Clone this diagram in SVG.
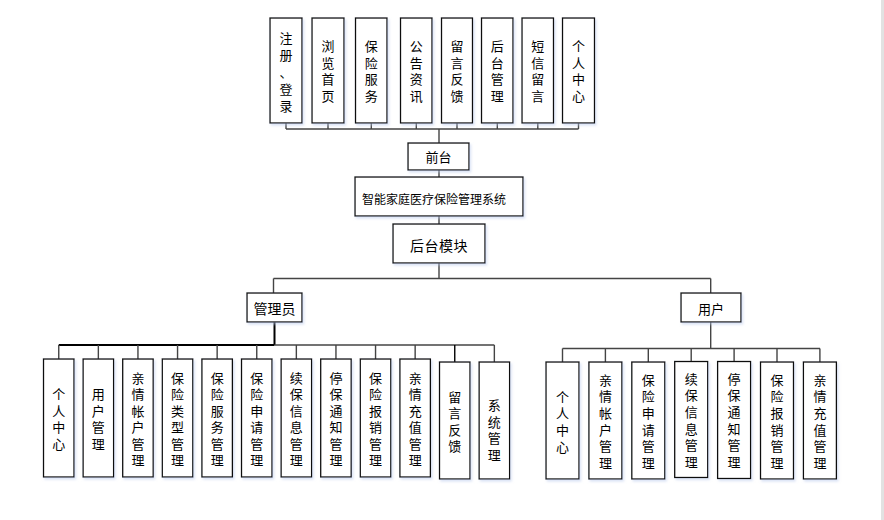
<svg xmlns="http://www.w3.org/2000/svg" width="884" height="520" viewBox="0 0 884 520">
<style>
.box{fill:#fff;stroke:#111;stroke-width:1.3;filter:url(#sh)}
.t{font-family:"Noto Sans CJK SC","Noto Sans",sans-serif;font-size:13px;fill:#000;text-anchor:middle;dominant-baseline:central}
.ln{fill:none;stroke:#444;stroke-width:1.4}
.thick{fill:none;stroke:#000;stroke-width:2}
</style>
<defs>
<filter id="sh" x="-20%" y="-20%" width="150%" height="150%">
<feDropShadow dx="1.5" dy="2" stdDeviation="1.2" flood-color="#b8c8ec" flood-opacity="0.5"/>
</filter>
</defs>
<rect width="884" height="520" fill="#fff"/>
<rect x="881" y="0" width="3" height="520" fill="#e2e2e2"/>

<g id="connectors">
<path class="ln" d="M286 123V129M328 123V129M371.3 123V129M416.3 123V129M457 123V129M497.3 123V129M537.8 123V129M578.5 123V129M286 129H578.5M439 129V143"/>
<path class="ln" d="M439 170V177M439 216V224M439 263V278.5M273.5 278.5H710.7M273.5 278.5V293M710.7 278.5V293"/>
<path class="thick" d="M274.5 322V345M58.75 345H274.5"/>
<path class="ln" d="M274.5 345H494.35"/>
<path class="ln" d="M58.75 345V359M98.35 345V359M137.95 345V359M177.55 345V359M217.15 345V359M256.75 345V359M296.35 345V359M335.95 345V359M375.55 345V359M415.15 345V359M494.35 345V362"/>
<path class="thick" d="M454.75 345V362" style="stroke-width:1.4"/>
<path class="ln" d="M710.7 322V348.5M562.5 348.5H820M562.5 348.5V362M605.4 348.5V362M648.3 348.5V362M691.2 348.5V362M734.1 348.5V362M777 348.5V362M819.9 348.5V362"/>
</g>

<g id="top-1"><rect class="box" x="270" y="18" width="32" height="105"/><text class="t" x="286" y="36.5"><tspan x="286">注</tspan><tspan x="286" dy="17">册</tspan><tspan x="286" dy="17">、</tspan><tspan x="286" dy="17">登</tspan><tspan x="286" dy="17">录</tspan></text></g>
<g id="top-2"><rect class="box" x="312" y="18" width="32" height="105"/><text class="t" x="328" y="45"><tspan x="328">浏</tspan><tspan x="328" dy="16.7">览</tspan><tspan x="328" dy="16.7">首</tspan><tspan x="328" dy="16.7">页</tspan></text></g>
<g id="top-3"><rect class="box" x="355.5" y="18" width="31.5" height="105"/><text class="t" x="371.3" y="45"><tspan x="371.3">保</tspan><tspan x="371.3" dy="16.7">险</tspan><tspan x="371.3" dy="16.7">服</tspan><tspan x="371.3" dy="16.7">务</tspan></text></g>
<g id="top-4"><rect class="box" x="400.5" y="18" width="31.5" height="105"/><text class="t" x="416.3" y="45"><tspan x="416.3">公</tspan><tspan x="416.3" dy="16.7">告</tspan><tspan x="416.3" dy="16.7">资</tspan><tspan x="416.3" dy="16.7">讯</tspan></text></g>
<g id="top-5"><rect class="box" x="441.5" y="18" width="31" height="105"/><text class="t" x="457" y="45"><tspan x="457">留</tspan><tspan x="457" dy="16.7">言</tspan><tspan x="457" dy="16.7">反</tspan><tspan x="457" dy="16.7">馈</tspan></text></g>
<g id="top-6"><rect class="box" x="481.5" y="18" width="31.5" height="105"/><text class="t" x="497.3" y="45"><tspan x="497.3">后</tspan><tspan x="497.3" dy="16.7">台</tspan><tspan x="497.3" dy="16.7">管</tspan><tspan x="497.3" dy="16.7">理</tspan></text></g>
<g id="top-7"><rect class="box" x="522" y="18" width="31.5" height="105"/><text class="t" x="537.8" y="45"><tspan x="537.8">短</tspan><tspan x="537.8" dy="16.7">信</tspan><tspan x="537.8" dy="16.7">留</tspan><tspan x="537.8" dy="16.7">言</tspan></text></g>
<g id="top-8"><rect class="box" x="562.5" y="18" width="32" height="105"/><text class="t" x="578.5" y="45"><tspan x="578.5">个</tspan><tspan x="578.5" dy="16.7">人</tspan><tspan x="578.5" dy="16.7">中</tspan><tspan x="578.5" dy="16.7">心</tspan></text></g>

<g id="qiantai"><rect class="box" x="408" y="143" width="61" height="27"/><text class="t" x="438.5" y="156.5">前台</text></g>
<g id="system"><rect class="box" x="355" y="177" width="168" height="39"/><text class="t" x="434" y="198" style="font-size:12px">智能家庭医疗保险管理系统</text></g>
<g id="houtai"><rect class="box" x="393" y="224" width="92" height="39"/><text class="t" x="439" y="244.5" style="font-size:14px;letter-spacing:0.5px">后台模块</text></g>
<g id="admin"><rect class="box" x="247" y="293" width="55" height="29"/><text class="t" x="274.5" y="308" style="font-size:14px">管理员</text></g>
<g id="user"><rect class="box" x="681" y="293" width="60" height="29"/><text class="t" x="711" y="308">用户</text></g>

<g id="a1"><rect class="box" x="43.5" y="359" width="30.5" height="118"/><text class="t" y="393"><tspan x="58.75">个</tspan><tspan x="58.75" dy="16.5">人</tspan><tspan x="58.75" dy="16.5">中</tspan><tspan x="58.75" dy="16.5">心</tspan></text></g>
<g id="a2"><rect class="box" x="83.1" y="359" width="30.5" height="118"/><text class="t" y="393"><tspan x="98.35">用</tspan><tspan x="98.35" dy="16.5">户</tspan><tspan x="98.35" dy="16.5">管</tspan><tspan x="98.35" dy="16.5">理</tspan></text></g>
<g id="a3"><rect class="box" x="122.7" y="359" width="30.5" height="118"/><text class="t" y="376.5"><tspan x="137.95">亲</tspan><tspan x="137.95" dy="16.5">情</tspan><tspan x="137.95" dy="16.5">帐</tspan><tspan x="137.95" dy="16.5">户</tspan><tspan x="137.95" dy="16.5">管</tspan><tspan x="137.95" dy="16.5">理</tspan></text></g>
<g id="a4"><rect class="box" x="162.3" y="359" width="30.5" height="118"/><text class="t" y="376.5"><tspan x="177.55">保</tspan><tspan x="177.55" dy="16.5">险</tspan><tspan x="177.55" dy="16.5">类</tspan><tspan x="177.55" dy="16.5">型</tspan><tspan x="177.55" dy="16.5">管</tspan><tspan x="177.55" dy="16.5">理</tspan></text></g>
<g id="a5"><rect class="box" x="201.9" y="359" width="30.5" height="118"/><text class="t" y="376.5"><tspan x="217.15">保</tspan><tspan x="217.15" dy="16.5">险</tspan><tspan x="217.15" dy="16.5">服</tspan><tspan x="217.15" dy="16.5">务</tspan><tspan x="217.15" dy="16.5">管</tspan><tspan x="217.15" dy="16.5">理</tspan></text></g>
<g id="a6"><rect class="box" x="241.5" y="359" width="30.5" height="118"/><text class="t" y="376.5"><tspan x="256.75">保</tspan><tspan x="256.75" dy="16.5">险</tspan><tspan x="256.75" dy="16.5">申</tspan><tspan x="256.75" dy="16.5">请</tspan><tspan x="256.75" dy="16.5">管</tspan><tspan x="256.75" dy="16.5">理</tspan></text></g>
<g id="a7"><rect class="box" x="281.1" y="359" width="30.5" height="118"/><text class="t" y="376.5"><tspan x="296.35">续</tspan><tspan x="296.35" dy="16.5">保</tspan><tspan x="296.35" dy="16.5">信</tspan><tspan x="296.35" dy="16.5">息</tspan><tspan x="296.35" dy="16.5">管</tspan><tspan x="296.35" dy="16.5">理</tspan></text></g>
<g id="a8"><rect class="box" x="320.7" y="359" width="30.5" height="118"/><text class="t" y="376.5"><tspan x="335.95">停</tspan><tspan x="335.95" dy="16.5">保</tspan><tspan x="335.95" dy="16.5">通</tspan><tspan x="335.95" dy="16.5">知</tspan><tspan x="335.95" dy="16.5">管</tspan><tspan x="335.95" dy="16.5">理</tspan></text></g>
<g id="a9"><rect class="box" x="360.3" y="359" width="30.5" height="118"/><text class="t" y="376.5"><tspan x="375.55">保</tspan><tspan x="375.55" dy="16.5">险</tspan><tspan x="375.55" dy="16.5">报</tspan><tspan x="375.55" dy="16.5">销</tspan><tspan x="375.55" dy="16.5">管</tspan><tspan x="375.55" dy="16.5">理</tspan></text></g>
<g id="a10"><rect class="box" x="399.9" y="359" width="30.5" height="118"/><text class="t" y="376.5"><tspan x="415.15">亲</tspan><tspan x="415.15" dy="16.5">情</tspan><tspan x="415.15" dy="16.5">充</tspan><tspan x="415.15" dy="16.5">值</tspan><tspan x="415.15" dy="16.5">管</tspan><tspan x="415.15" dy="16.5">理</tspan></text></g>
<g id="a11"><rect class="box" x="439.5" y="362" width="30.5" height="117"/><text class="t" y="395.5"><tspan x="454.75">留</tspan><tspan x="454.75" dy="16.5">言</tspan><tspan x="454.75" dy="16.5">反</tspan><tspan x="454.75" dy="16.5">馈</tspan></text></g>
<g id="a12"><rect class="box" x="479.1" y="362" width="30.5" height="117"/><text class="t" y="404"><tspan x="494.35">系</tspan><tspan x="494.35" dy="16.5">统</tspan><tspan x="494.35" dy="16.5">管</tspan><tspan x="494.35" dy="16.5">理</tspan></text></g>

<g id="u1"><rect class="box" x="546" y="362" width="33" height="117"/><text class="t" y="395.5"><tspan x="562.5">个</tspan><tspan x="562.5" dy="16.7">人</tspan><tspan x="562.5" dy="16.7">中</tspan><tspan x="562.5" dy="16.7">心</tspan></text></g>
<g id="u2"><rect class="box" x="588.9" y="362" width="33" height="117"/><text class="t" y="378.5"><tspan x="605.4">亲</tspan><tspan x="605.4" dy="16.7">情</tspan><tspan x="605.4" dy="16.7">帐</tspan><tspan x="605.4" dy="16.7">户</tspan><tspan x="605.4" dy="16.7">管</tspan><tspan x="605.4" dy="16.7">理</tspan></text></g>
<g id="u3"><rect class="box" x="631.8" y="362" width="33" height="117"/><text class="t" y="378.5"><tspan x="648.3">保</tspan><tspan x="648.3" dy="16.7">险</tspan><tspan x="648.3" dy="16.7">申</tspan><tspan x="648.3" dy="16.7">请</tspan><tspan x="648.3" dy="16.7">管</tspan><tspan x="648.3" dy="16.7">理</tspan></text></g>
<g id="u4"><rect class="box" x="674.7" y="361.5" width="33" height="116"/><text class="t" y="377.5"><tspan x="691.2">续</tspan><tspan x="691.2" dy="16.7">保</tspan><tspan x="691.2" dy="16.7">信</tspan><tspan x="691.2" dy="16.7">息</tspan><tspan x="691.2" dy="16.7">管</tspan><tspan x="691.2" dy="16.7">理</tspan></text></g>
<g id="u5"><rect class="box" x="717.6" y="361.5" width="33" height="117"/><text class="t" y="377.5"><tspan x="734.1">停</tspan><tspan x="734.1" dy="16.7">保</tspan><tspan x="734.1" dy="16.7">通</tspan><tspan x="734.1" dy="16.7">知</tspan><tspan x="734.1" dy="16.7">管</tspan><tspan x="734.1" dy="16.7">理</tspan></text></g>
<g id="u6"><rect class="box" x="760.5" y="362" width="33" height="117"/><text class="t" y="378.5"><tspan x="777">保</tspan><tspan x="777" dy="16.7">险</tspan><tspan x="777" dy="16.7">报</tspan><tspan x="777" dy="16.7">销</tspan><tspan x="777" dy="16.7">管</tspan><tspan x="777" dy="16.7">理</tspan></text></g>
<g id="u7"><rect class="box" x="803.4" y="362" width="33" height="117"/><text class="t" y="378.5"><tspan x="819.9">亲</tspan><tspan x="819.9" dy="16.7">情</tspan><tspan x="819.9" dy="16.7">充</tspan><tspan x="819.9" dy="16.7">值</tspan><tspan x="819.9" dy="16.7">管</tspan><tspan x="819.9" dy="16.7">理</tspan></text></g>
</svg>
